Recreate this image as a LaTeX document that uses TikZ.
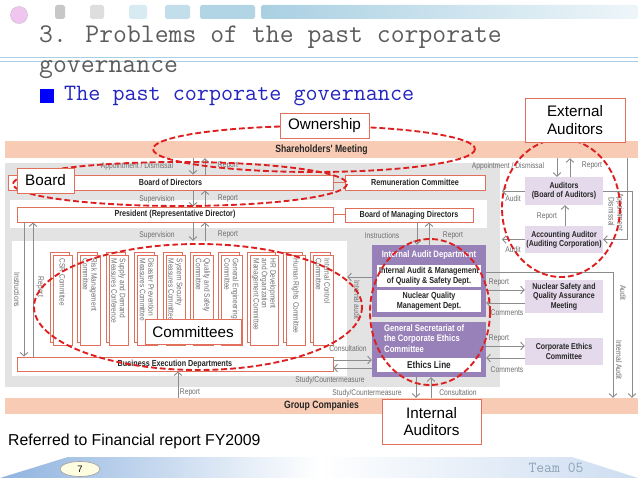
\documentclass[tikz,border=0pt]{standalone}
\usepackage{fontspec}
\setmainfont{Liberation Sans}
\newfontfamily\govcond[FakeStretch=0.82]{Liberation Sans}
\usepackage{xcolor}
\usetikzlibrary{arrows.meta}
\usetikzlibrary{calc}
\usetikzlibrary{shapes.geometric}

\definecolor{govpeach}{HTML}{F8CBB4}
\definecolor{govpanel}{HTML}{E3E3E3}
\definecolor{govred}{HTML}{E0705C}
\definecolor{govdash}{HTML}{DD1F1F}
\definecolor{govpurple}{HTML}{9880B8}
\definecolor{govlav}{HTML}{E5DAEB}
\definecolor{govarrow}{HTML}{8C8C8C}
\definecolor{govtext}{HTML}{6E6E6E}
\definecolor{govtitle}{HTML}{5C5C5C}
\definecolor{govblue}{HTML}{2424C0}
\definecolor{govfoot}{HTML}{8FB3DF}
\definecolor{govteam}{HTML}{8EA2B4}
\definecolor{govpink}{HTML}{F0C6F0}
\definecolor{govrule}{HTML}{A9D0E2}

\newcommand{\gpx}{0.03cm}

\begin{document}
\begin{tikzpicture}[x=\gpx, y=-\gpx,
    sz/.style 2 args={minimum width=#1*\gpx, minimum height=#2*\gpx},
    redbox/.style={draw=govred, line width=0.7pt, fill=white, inner sep=0pt, text=black!85, font=\govcond\bfseries\fontsize{7.5}{8.5}\selectfont},
    bar/.style={fill=govpeach, inner sep=0pt, text=black!85, font=\govcond\bfseries\fontsize{9}{10}\selectfont},
    purplebox/.style={fill=govpurple, inner sep=0pt},
    whitebox/.style={fill=white, inner sep=0pt, align=center, text=black!85, font=\govcond\bfseries\fontsize{7.5}{8.2}\selectfont},
    lavbox/.style={fill=govlav, inner sep=0pt, align=center, text=black!85, font=\govcond\bfseries\fontsize{7.3}{8}\selectfont},
    comback/.style={draw=govred, fill=white, line width=0.6pt},
    combox/.style={draw=govred, fill=white, line width=0.6pt, inner sep=0pt},
    comtext/.style={rotate=-90, anchor=west, align=left, inner sep=0.5pt, text=govtext, font=\govcond\fontsize{6.8}{7.2}\selectfont},
    glabel/.style={inner sep=0.5pt, text=govtext, font=\govcond\fontsize{7}{8}\selectfont},
    arr/.style={draw=govarrow, line width=0.8pt, -{Straight Barb[length=3pt,width=6.5pt]}},
    link/.style={draw=govred, line width=0.7pt},
    annell/.style={draw=govdash, line width=1.6pt, dash pattern=on 5pt off 2.5pt},
    annbox/.style={draw=govred, line width=0.8pt, fill=white, align=center, inner sep=0pt, font=\fontsize{13}{15}\selectfont}]
        \useasboundingbox (0,0) rectangle (638,478);
        \fill[white] (0,0) rectangle (638,478);
        \fill[govpink] (19,15) circle (8.5);
        \draw[govpink!70!black!60, line width=0.4pt] (19,15) circle (8.5);
        \fill[black!22, rounded corners=1.5pt] (55,5) rectangle (65,19);
        \fill[black!13, rounded corners=1.5pt] (90,5) rectangle (104,19);
        \fill[govrule!45, rounded corners=1.5pt] (129,5) rectangle (147,19);
        \fill[govrule!70, rounded corners=1.5pt] (165,5) rectangle (190,19);
        \fill[govrule!90, rounded corners=1.5pt] (200,5) rectangle (255,19);
        \shade[left color=govrule, right color=govrule!20, rounded corners=1.5pt] (261,5) rectangle (638,19);
        \draw[govrule, line width=1.2pt] (0,57.5) -- (638,57.5);
        \draw[govrule, line width=1.2pt] (0,61.5) -- (638,61.5);
        \node[anchor=base west, inner sep=0pt, text=govtitle, font=\fontsize{23}{23}\selectfont\ttfamily] (title1) at (39,43) {3. Problems of the past corporate};
        \node[anchor=base west, inner sep=0pt, text=govtitle, font=\fontsize{23}{23}\selectfont\ttfamily] (title2) at (39,72) {governance};
        \fill[blue] (40,89) rectangle (54,103);
        \node[anchor=base west, inner sep=0pt, text=govblue, font=\fontsize{20}{20}\selectfont\ttfamily] (subtitle) at (64,101) {The past corporate governance};
        \fill[govpanel] (5,163) rectangle (500,387);
        \fill[white] (10,200) rectangle (487,228);
        \node[fill=white, inner sep=0pt, sz={335}{135}] (comarea) at (179.5,308.5) {};
        \node[bar, sz={633}{17}] (sh) at (321.5,149.5) {Shareholders' Meeting};
        \node[bar, sz={633}{16}] (gp) at (321.5,406) {Group Companies};
        \node[redbox, sz={325}{15}] (bod) at (170.5,182.5) {Board of Directors};
        \node[redbox, sz={140}{15}] (rem) at (415,182.5) {Remuneration Committee};
        \node[redbox, sz={316}{15}] (pres) at (175,214.5) {President (Representative Director)};
        \node[redbox, sz={128}{14}] (bomd) at (409,215) {Board of Managing Directors};
        \node[redbox, sz={316}{14}] (bed) at (175,364) {Business Execution Departments};
        \draw[link] (bod) -- (rem);
        \draw[link] (pres.east) -- (pres.east -| bomd.west);
        \foreach \cxa/\cxb/\cnm/\ctxt in {50/72/csr/{CSR Committee}, 77/100/risk/{Risk Management\\Committee}, 106/128/supply/{Supply and Demand\\Measures Conference}, 134/157/disaster/{Disaster Prevention\\Measures Committee}, 163/185/system/{System Security\\Measures Committee}, 190/213/quality/{Quality and Safety\\Committee}, 218/242/general/{General Engineering\\Committee}, 247/278/hr/{HR Development\\and Organization\\Management Committee}, 283/305/human/{Human Rights Committee}, 310/333/internal/{Internal Control\\Committee}}{
            \draw[comback] (\cxa,252) rectangle (\cxb-3,342);
            \node[combox, minimum width={(\cxb-\cxa-3)*\gpx}, minimum height={90*\gpx}] (com\cnm) at ({(\cxa+\cxb+3)/2},300) {};
            \node[comtext] (t\cnm) at ({(\cxa+\cxb+3)/2},258) {\ctxt};
        }
        \node[purplebox, sz={114}{72}] (iad) at (429,281) {};
        \node[text=white, inner sep=0pt, font=\govcond\bfseries\fontsize{8}{9}\selectfont] (iadtitle) at (429,255) {Internal Audit Department};
        \node[whitebox, sz={104}{22}] (iaqs) at (429,276) {Internal Audit \& Management\\of Quality \& Safety Dept.};
        \node[whitebox, sz={104}{22}] (nqm) at (429,301) {Nuclear Quality\\Management Dept.};
        \node[purplebox, sz={114}{55}] (gsce) at (429,349.5) {};
        \node[anchor=north west, align=left, text=white, inner sep=0pt, font=\govcond\bfseries\fontsize{8}{9.2}\selectfont] (gscetitle) at (384,324) {General Secretariat of\\the Corporate Ethics\\Committee};
        \node[whitebox, sz={104}{14}, font=\govcond\bfseries\fontsize{8.5}{9}\selectfont] (eth) at (429,365) {Ethics Line};
        \node[lavbox, sz={78}{28}] (aud) at (564,191) {Auditors\\(Board of Auditors)};
        \node[lavbox, sz={78}{27}] (acc) at (564,239.5) {Accounting Auditor\\(Auditing Corporation)};
        \node[lavbox, sz={78}{33}] (nsq) at (564,296.5) {Nuclear Safety and\\Quality Assurance\\Meeting};
        \node[lavbox, sz={78}{27}] (cec) at (564,351.5) {Corporate Ethics\\Committee};
        \coordinate (colin) at (193,0);
        \coordinate (colup) at (205,0);
        \coordinate (instdn) at (24,0);
        \coordinate (reptup) at (33,0);
        \coordinate (iadn) at (417,0);
        \coordinate (iaup) at (429,0);
        \coordinate (audn) at (557,0);
        \coordinate (auup) at (570,0);
        \coordinate (acup) at (565,0);
        \coordinate (grup) at (178,0);
        \coordinate (gsdn) at (416,0);
        \coordinate (gsup) at (431,0);
        \coordinate (apline) at (627,0);
        \coordinate (audline) at (632,0);
        \coordinate (ialine) at (613,0);
        \coordinate (auend) at (502,0);
        \coordinate (iarow) at (0,277);
        \coordinate (iaout) at (0,272);
        \coordinate (nsrep) at (0,290);
        \coordinate (nscom) at (0,303);
        \coordinate (cerep) at (0,346);
        \coordinate (cecom) at (0,358);
        \coordinate (conrow) at (0,360);
        \coordinate (sturow) at (0,368);
        \draw[arr] (sh.south -| colin) -- (bod.north -| colin);
        \draw[arr] (bod.north -| colup) -- (sh.south -| colup);
        \draw[arr] (bod.south -| colin) -- (pres.north -| colin);
        \draw[arr] (pres.north -| colup) -- (bod.south -| colup);
        \draw[arr] (pres.south -| colin) -- (comarea.north -| colin);
        \draw[arr] (comarea.north -| colup) -- (pres.south -| colup);
        \draw[arr] (pres.south -| instdn) -- (bed.north -| instdn);
        \draw[arr] (bed.north -| reptup) -- (pres.south -| reptup);
        \draw[arr] (bomd.south -| iadn) -- (iad.north -| iadn);
        \draw[arr] (iad.north -| iaup) -- (bomd.south -| iaup);
        \draw[arr] (iad.west |- iarow) -- (comarea.east |- iarow);
        \draw[arr] (bed.east |- conrow) -- (gsce.west |- conrow);
        \draw[arr] (gsce.west |- sturow) -- (bed.east |- sturow);
        \draw[arr] (gp.north -| grup) -- (bed.south -| grup);
        \draw[arr] (gsce.south -| gsdn) -- (gp.north -| gsdn);
        \draw[arr] (gp.north -| gsup) -- (gsce.south -| gsup);
        \draw[arr] (iad.east |- nsrep) -- (nsq.west |- nsrep);
        \draw[arr] (nsq.west |- nscom) -- (iad.east |- nscom);
        \draw[arr] (gsce.east |- cerep) -- (cec.west |- cerep);
        \draw[arr] (cec.west |- cecom) -- (gsce.east |- cecom);
        \draw[arr] (sh.south -| audn) -- (aud.north -| audn);
        \draw[arr] (aud.north -| auup) -- (sh.south -| auup);
        \draw[arr] (acc.north -| acup) -- (aud.south -| acup);
        \draw[arr] (aud.west) -- (aud.west -| auend);
        \draw[arr] (acc.west) -- (acc.west -| auend);
        \draw[arr] (sh.south -| apline) |- (acc.east);
        \draw[arr] (aud.east) -| (gp.north -| audline);
        \draw[arr] (iad.east |- iaout) -| (gp.north -| ialine);
        \node[glabel] (lapp1) at (137,166) {Appointment / Dismissal};
        \node[glabel] (lrep1) at (228,166) {Report};
        \node[glabel] (lsup1) at (157,199) {Supervision};
        \node[glabel] (lrep2) at (228,199) {Report};
        \node[glabel] (lsup2) at (157,235) {Supervision};
        \node[glabel] (lrep3) at (228,235) {Report};
        \node[glabel, rotate=-90] (lins1) at (17,290) {Instructions};
        \node[glabel, rotate=-90] (lrep4) at (40,287) {Report};
        \node[glabel] (lins2) at (382,236) {Instructions};
        \node[glabel] (lrep5) at (453,236) {Report};
        \node[glabel, rotate=-90] (liau1) at (357,300) {Internal audit};
        \node[glabel] (lcon1) at (348,349) {Consultation};
        \node[glabel] (lstu1) at (330,380) {Study/Countermeasure};
        \node[glabel] (lrep6) at (190,393) {Report};
        \node[glabel] (lstu2) at (367,393) {Study/Countermeasure};
        \node[glabel] (lcon2) at (458,393) {Consultation};
        \node[glabel] (lapp2) at (508,166) {Appointment / Dismissal};
        \node[glabel] (lrep7) at (592,166) {Report};
        \node[glabel] (laud1) at (513,199) {Audit};
        \node[glabel] (lrep8) at (547,217) {Report};
        \node[glabel] (laud2) at (513,250) {Audit};
        \node[glabel, rotate=-90, align=center, font=\govcond\fontsize{7}{7.8}\selectfont] (lappd) at (616,212) {Appointment\\Dismissal};
        \node[glabel, rotate=-90] (laud3) at (623,293) {Audit};
        \node[glabel, rotate=-90] (liau2) at (619,360) {Internal Audit};
        \node[glabel] (lrep9) at (499,283) {Report};
        \node[glabel] (lcom1) at (507,313) {Comments};
        \node[glabel] (lrep10) at (499,339) {Report};
        \node[glabel] (lcom2) at (507,370) {Comments};
        \draw[annell] (314,149) ellipse [x radius=161, y radius=23];
        \draw[annell] (180,184) ellipse [x radius=167, y radius=22];
        \draw[annell] (561,208) ellipse [x radius=59, y radius=69];
        \draw[annell] (198,307) ellipse [x radius=164, y radius=63];
        \draw[annell] (430,312) ellipse [x radius=60, y radius=73];
        \node[annbox, sz={89}{25}] (own) at (324.5,125.5) {Ownership};
        \node[annbox, sz={100}{44}] (ext) at (575,120) {External\\Auditors};
        \node[annbox, sz={57}{25}] (brd) at (45.5,180.5) {Board};
        \node[annbox, sz={96}{25}] (comm) at (193,332) {Committees};
        \node[annbox, sz={99}{45}] (ina) at (431.5,421.5) {Internal\\Auditors};
        \node[anchor=west, inner sep=0pt, font=\fontsize{13.5}{15}\selectfont] (ref) at (8,441) {Referred to Financial report FY2009};
        \shade[left color=govfoot, right color=govfoot!45, middle color=white] (0,478) -- (68,457) -- (572,457) -- (638,478) -- cycle;
        \node[ellipse, fill=yellow!12!white, draw=black!35, line width=0.6pt, inner sep=0pt, sz={40}{15}, font=\fontsize{8}{8}\selectfont] (pgnum) at (80,469) {7};
        \node[inner sep=0pt, text=govteam, font=\fontsize{13}{13}\selectfont\ttfamily] (team) at (556,468) {Team 05};
    \end{tikzpicture}
\end{document}
